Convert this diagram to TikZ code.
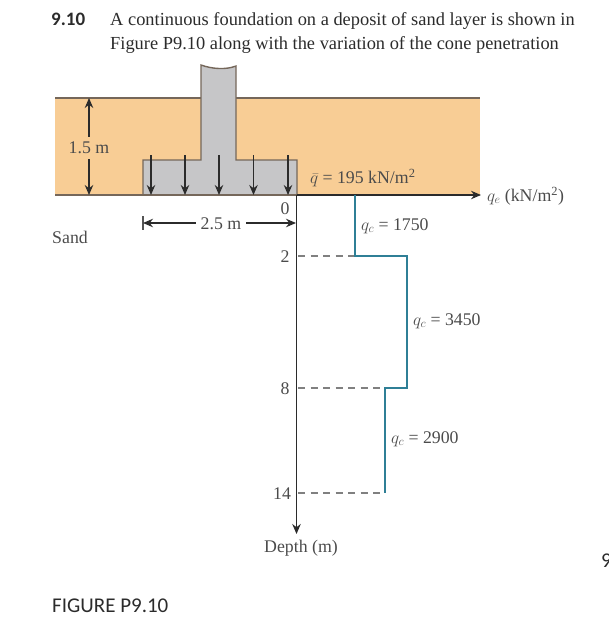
\documentclass[tikz,border=0pt]{standalone}
\usepackage{fontspec}
\setmainfont{Liberation Serif}
\newfontfamily\hdfont{Carlito}
\usetikzlibrary{arrows.meta}
\definecolor{sandc}{HTML}{F8CD95}
\definecolor{conc}{HTML}{C6C6C8}
\definecolor{edgec}{HTML}{75675A}
\definecolor{stepc}{HTML}{2F7F96}
\definecolor{inkc}{HTML}{2B2B2B}
\definecolor{dashc}{HTML}{808080}
\tikzset{
  lbl/.style={inner sep=0pt,outer sep=5pt,text=inkc!85,font=\fontsize{17.8}{19}\selectfont},
  body/.style={inner sep=0pt,anchor=base west,text=inkc,font=\fontsize{18.4}{20}\selectfont},
  head/.style={inner sep=0pt,anchor=base west,text=inkc,font=\hdfont\fontsize{21}{23}\selectfont},
  tip/.style={-{Stealth[length=10pt,width=8.5pt]},inkc,line width=1.1pt},
  profile/.style={stepc,line width=1.15pt},
  guide/.style={dashc,line width=1.3pt,dash pattern=on 7pt off 5.5pt},
  dimline/.style={inkc!80,line width=1.1pt}
}
\begin{document}
\begin{tikzpicture}[x=1pt,y=-1pt]
\useasboundingbox (0,0) rectangle (608,626);
% text block
\node[head,font=\hdfont\bfseries\fontsize{19}{21}\selectfont] (num) at (51,26) {9.10};
\node[body] (l1) at (110,26) {A continuous foundation on a deposit of sand layer is shown in};
\node[body] (l2) at (110,50) {Figure P9.10 along with the variation of the cone penetration};
\node[head] (fig) at (52,612) {FIGURE P9.10};
\node[head] (nine) at (601,567) {9};
% sand
\fill[sandc] (55,98) rectangle (480,195);
\draw[edgec,line width=1.3pt] (55,98) -- (201,98) (236,98) -- (480,98);
% footing
\draw[fill=conc,draw=edgec,line width=1.4pt]
  (143,195) -- (143,160) -- (201,160) -- (201,65)
  .. controls (212,69) and (226,70) .. (236,66)
  -- (236,160) -- (297,160) -- (297,195) -- cycle;
% named points
\coordinate (O) at (296.5,195);
\coordinate (axE) at (481,195);
\coordinate (axS) at (296.5,534);
\coordinate (g0) at (55,195);
\draw[edgec,line width=1.3pt] (g0) -- (O);
% pressure arrows
\foreach \n/\x in {a/151,b/185,c/219,d/253.5,e/288}{
  \coordinate (\n t) at (\x,155);
  \coordinate (\n b) at (\x,195);
  \draw[tip] (\n t) -- (\n b);
}
% axes
\draw[tip] (O) -- (axE);
\draw[tip] (O) -- (axS);
% 1.5 m dimension
\node[lbl] (h) at (89,148) {1.5 m};
\coordinate (ht) at (89,98);
\coordinate (hb) at (89,195);
\draw[tip] (h) -- (ht);
\draw[tip] (h) -- (hb);
% 2.5 m dimension
\node[lbl] (w) at (221,224) {2.5 m};
\coordinate (wl) at (143,223);
\coordinate (wr) at (296,223);
\draw[dimline] (143,216) -- (143,230);
\draw[tip] (w.west |- wl) -- (wl);
\draw[tip] (w.east |- wr) -- (wr);
% depth ticks
\node[lbl] (d0) at (285,209) {0};
\node[lbl] (d2) at (285,257) {2};
\node[lbl] (d8) at (285,389) {8};
\node[lbl] (d14) at (282,494) {14};
\node[lbl] (dep) at (301,548) {Depth (m)};
\node[lbl] (sand) at (70,237) {Sand};
% guides and profile
\coordinate (p0) at (355,195);
\coordinate (p1) at (355,256);
\coordinate (p2) at (407,256);
\coordinate (p3) at (407,388);
\coordinate (p4) at (385,388);
\coordinate (p5) at (385,493);
\coordinate (g2) at (298,256);
\coordinate (g8) at (298,388);
\coordinate (g14) at (298,493);
\draw[guide] (g2) -- (p1);
\draw[guide] (g8) -- (p4);
\draw[guide] (g14) -- (p5);
\draw[profile] (p0) -- (p1) -- (p2) -- (p3) -- (p4) -- (p5);
% value labels
\node[lbl,anchor=west,outer sep=0pt] (q0) at (310,178) {$\bar{q}$ = 195 kN/m\textsuperscript{2}};
\node[lbl,anchor=west,outer sep=0pt] (q1) at (361,226) {$q_c$ = 1750};
\node[lbl,anchor=west,outer sep=0pt] (q2) at (413,321) {$q_c$ = 3450};
\node[lbl,anchor=west,outer sep=0pt] (q3) at (391,439) {$q_c$ = 2900};
\node[lbl,anchor=west,outer sep=0pt] (qe) at (487,196) {$q_e$ (kN/m\textsuperscript{2})};
\end{tikzpicture}
\end{document}
